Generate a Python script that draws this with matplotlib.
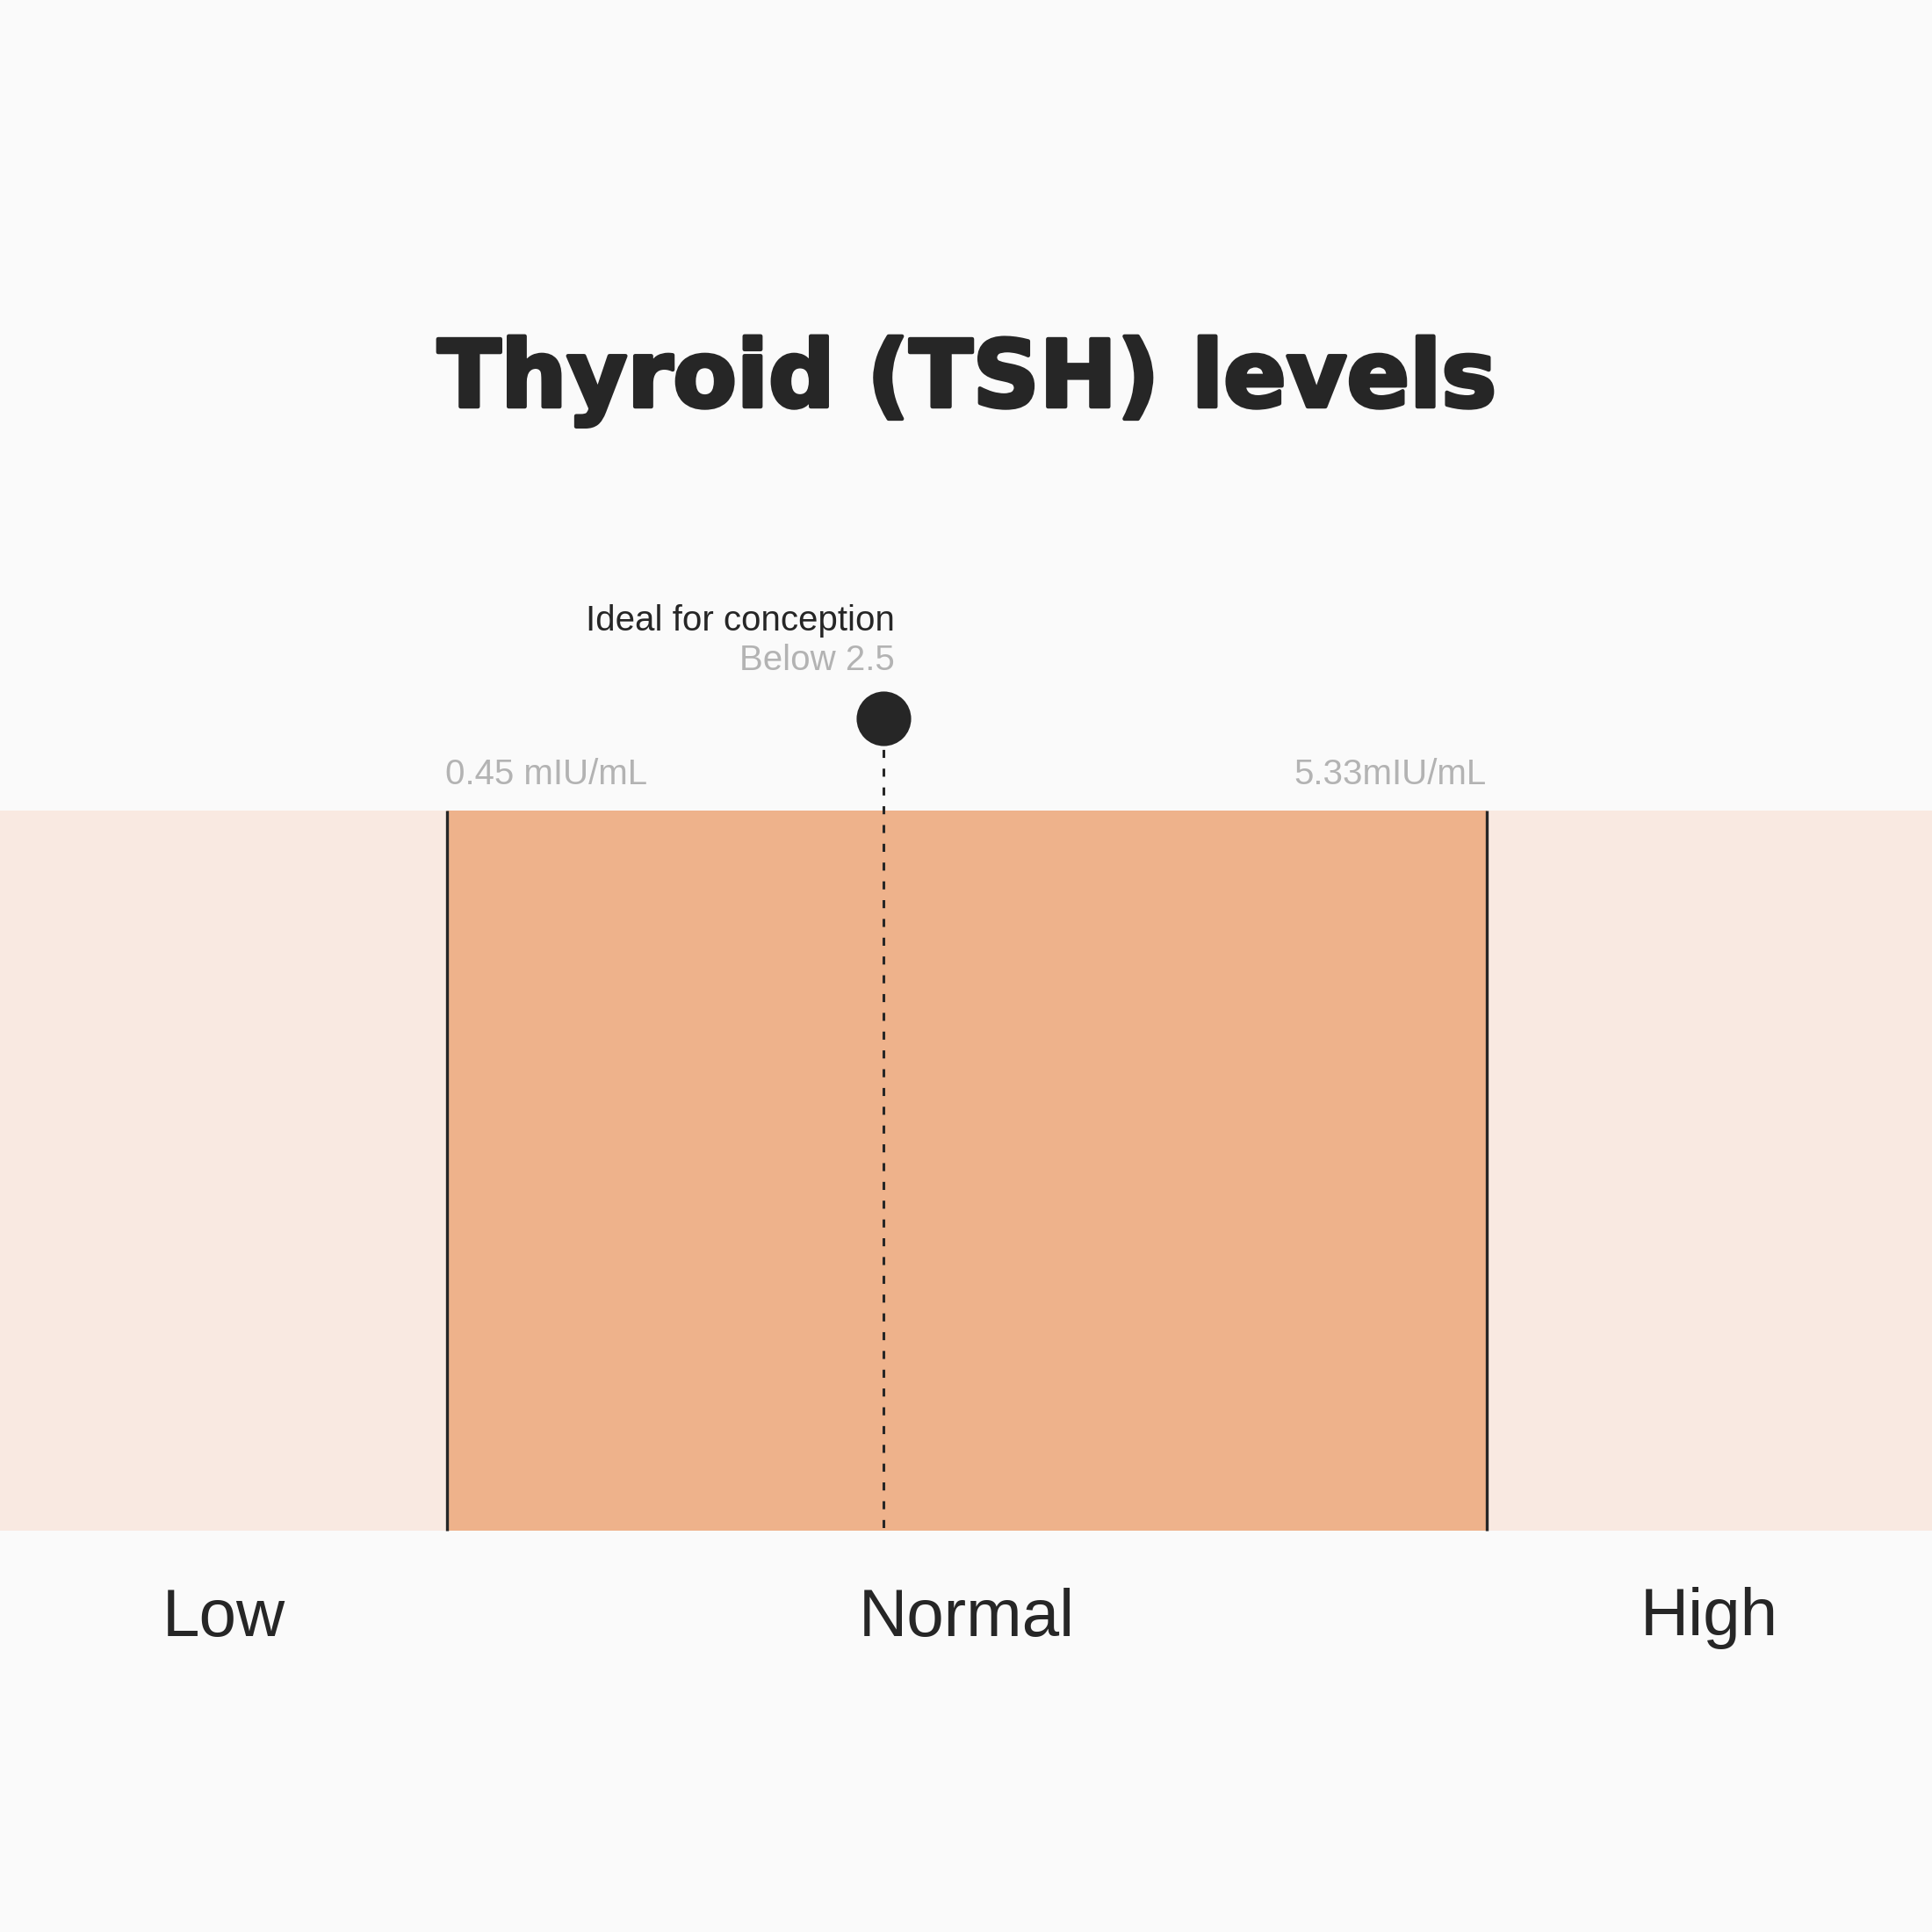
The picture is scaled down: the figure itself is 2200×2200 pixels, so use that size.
import matplotlib
matplotlib.use("Agg")
import matplotlib.pyplot as plt
import matplotlib.patheffects as pe

# ---- data ----
title = "Thyroid (TSH) levels"
zones = ["Low", "Normal", "High"]
bounds = [0.45, 5.33]                 # mIU/mL
bound_labels = ["0.45 mIU/mL", "5.33mIU/mL"]
ideal_value = 2.5
ideal_title = "Ideal for conception"
ideal_sub = "Below 2.5"
x_limits = [-1.648, 7.42]

BG = "#fafafa"
LIGHT = "#f9e9e1"
DARK = "#eeb28b"
INK = "#262626"
GREY = "#b3b3b3"

fig = plt.figure(figsize=(11, 11), dpi=200, facecolor=BG)
ax = fig.add_axes([0, 0, 1, 1])
ax.set_facecolor(BG)
ax.set_xlim(*x_limits)
ax.set_ylim(2200, 0)
ax.axis("off")

band_top, band_bot = 923, 1743

edges = [x_limits[0]] + bounds + [x_limits[1]]
colors = [LIGHT, DARK, LIGHT]
for i, z in enumerate(zones):
    ax.fill_between([edges[i], edges[i + 1]], band_top, band_bot,
                    color=colors[i], lw=0, zorder=1)
    ax.text((edges[i] + edges[i + 1]) / 2, 1843, z, ha="center", va="center",
            fontsize=27.5, color=INK, family="Liberation Sans")

for b in bounds:
    ax.plot([b, b], [band_top, band_bot], color=INK, lw=1.2, zorder=3,
            solid_capstyle="butt")

ax.text(bounds[0] - 0.01, 882, bound_labels[0], ha="left", va="center",
        fontsize=14.5, color=GREY, family="Liberation Sans")
ax.text(bounds[1], 882, bound_labels[1], ha="right", va="center",
        fontsize=14.5, color=GREY, family="Liberation Sans")

# ideal marker
ax.plot([ideal_value, ideal_value], [832, band_bot], color=INK, lw=1.1,
        ls=(0, (3, 4)), zorder=3)
ax.scatter([ideal_value], [818], s=500, color=INK, zorder=4, lw=0)
ax.text(ideal_value + 0.05, 707, ideal_title, ha="right", va="center",
        fontsize=14.5, color=INK, family="Liberation Sans")
ax.text(ideal_value + 0.05, 752, ideal_sub, ha="right", va="center",
        fontsize=14.5, color=GREY, family="Liberation Sans")

ax.text(sum(x_limits) / 2 + 0.005, 463, title, ha="center", va="baseline",
        fontsize=38, fontweight="bold", color=INK, family="DejaVu Sans",
        path_effects=[pe.withStroke(linewidth=1.6, foreground=INK)])

fig.savefig("out.png", dpi=200, facecolor=BG)
